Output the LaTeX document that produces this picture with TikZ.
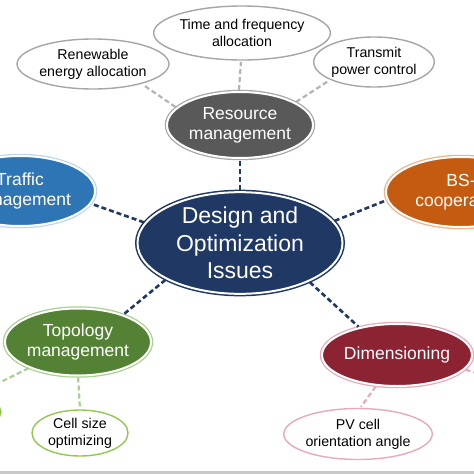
\documentclass[tikz,border=0pt]{standalone}
\usepackage{fontspec}
\setmainfont{Liberation Sans}
\usetikzlibrary{shapes.geometric}
\definecolor{navy}{HTML}{1F3864}
\definecolor{resfill}{HTML}{595959}
\definecolor{resring}{HTML}{A6A6A6}
\definecolor{trafill}{HTML}{2E75B6}
\definecolor{traring}{HTML}{BDD7EE}
\definecolor{bsfill}{HTML}{C55A11}
\definecolor{bsring}{HTML}{F4B183}
\definecolor{topfill}{HTML}{548235}
\definecolor{topring}{HTML}{A9D18E}
\definecolor{dimfill}{HTML}{8B2332}
\definecolor{dimring}{HTML}{E8A9B8}
\definecolor{gline}{HTML}{B4B4B4}
\definecolor{greenline}{HTML}{A9D18E}
\definecolor{greenedge}{HTML}{92C84F}
\definecolor{pinkline}{HTML}{E8A9B8}
\definecolor{barcol}{HTML}{C8C8C8}
\tikzset{
  bigell/.style 2 args={ellipse, inner sep=0pt, outer sep=0pt, fill=#1,
    preaction={draw=#2, line width=4.5pt}, draw=white, line width=2pt,
    text=white, align=center, font=\fontsize{17.5}{20}\selectfont},
  childell/.style={ellipse, inner sep=0pt, outer sep=0pt, fill=white,
    draw=#1, line width=1.4pt, text=black, align=center,
    font=\fontsize{14.2}{17}\selectfont},
  mainlink/.style={draw=navy, line width=2.6pt, dash pattern=on 5pt off 3pt,
    shorten <=2pt, shorten >=2pt},
  sublink/.style={draw=#1, line width=2.2pt, dash pattern=on 5pt off 3pt,
    shorten <=2pt, shorten >=2pt}
}
\begin{document}
\begin{tikzpicture}[x=1pt,y=-1pt]
\useasboundingbox (0,0) rectangle (474,474);
\clip (0,0) rectangle (474,474);
\fill[white] (0,0) rectangle (474,474);
\fill[barcol] (0,471) rectangle (474,474);

% centre
\node[ellipse, inner sep=0pt, outer sep=0pt, fill=navy,
  preaction={draw=navy, line width=5pt}, draw=white, line width=2pt,
  minimum width=205pt, minimum height=98pt, text=white, align=center,
  font=\fontsize{23}{27.5}\selectfont] (c) at (240,243) {Design and\\Optimization\\Issues};

% main categories
\node[bigell={resfill}{resring}, minimum width=146pt, minimum height=66pt] (res) at (240,125) {Resource\\management};
\node[bigell={trafill}{traring}, minimum width=150pt, minimum height=70pt] (tra) at (20,191) {Traffic\\management};
\node[bigell={bsfill}{bsring}, minimum width=150pt, minimum height=70pt] (bs) at (461,192) {BS-\\cooperation};
\node[bigell={topfill}{topring}, minimum width=146pt, minimum height=67pt] (top) at (78,342) {Topology\\management};
\node[bigell={dimfill}{dimring}, minimum width=142pt, minimum height=62pt] (dim) at (397,355) {Dimensioning};

% sub items
\node[childell=resring, minimum width=142pt, minimum height=54pt] (time) at (242,33) {Time and frequency\\allocation};
\node[childell=resring, minimum width=126pt, minimum height=50pt] (ren) at (93,64) {Renewable\\energy allocation};
\node[childell=resring, minimum width=120pt, minimum height=50pt] (trans) at (374,62) {Transmit\\power control};
\node[childell=greenedge, minimum width=96pt, minimum height=46pt] (cell) at (80,433) {Cell size\\optimizing};
\node[childell=greenedge, minimum width=122pt, minimum height=40pt] (topl) at (-60,412) {};
\node[childell=pinkline, minimum width=124pt, minimum height=51pt] (pv) at (358,434) {PV cell\\orientation angle};
\coordinate (dimr) at (492,378);

% main links
\draw[mainlink] (c.90) -- (res.270);
\draw[mainlink] (c.168) -- (tra.350);
\draw[mainlink] (c.13) -- (bs.186);
\draw[mainlink] (c.206) -- (top.31);
\draw[mainlink] (c.331) -- (dim.144);

% sub links
\draw[sublink=gline] (res.165) -- (ren.338);
\draw[sublink=gline] (res.92) -- (time.268);
\draw[sublink=gline] (res.22) -- (trans.202);
\draw[sublink=greenline] (top.270) -- (cell.90);
\draw[sublink=greenline] (top.208) -- (topl);
\draw[sublink=pinkline] (dim.236) -- (pv.86);
\draw[sublink=pinkline] (dim.348) -- (dimr);
\end{tikzpicture}
\end{document}
